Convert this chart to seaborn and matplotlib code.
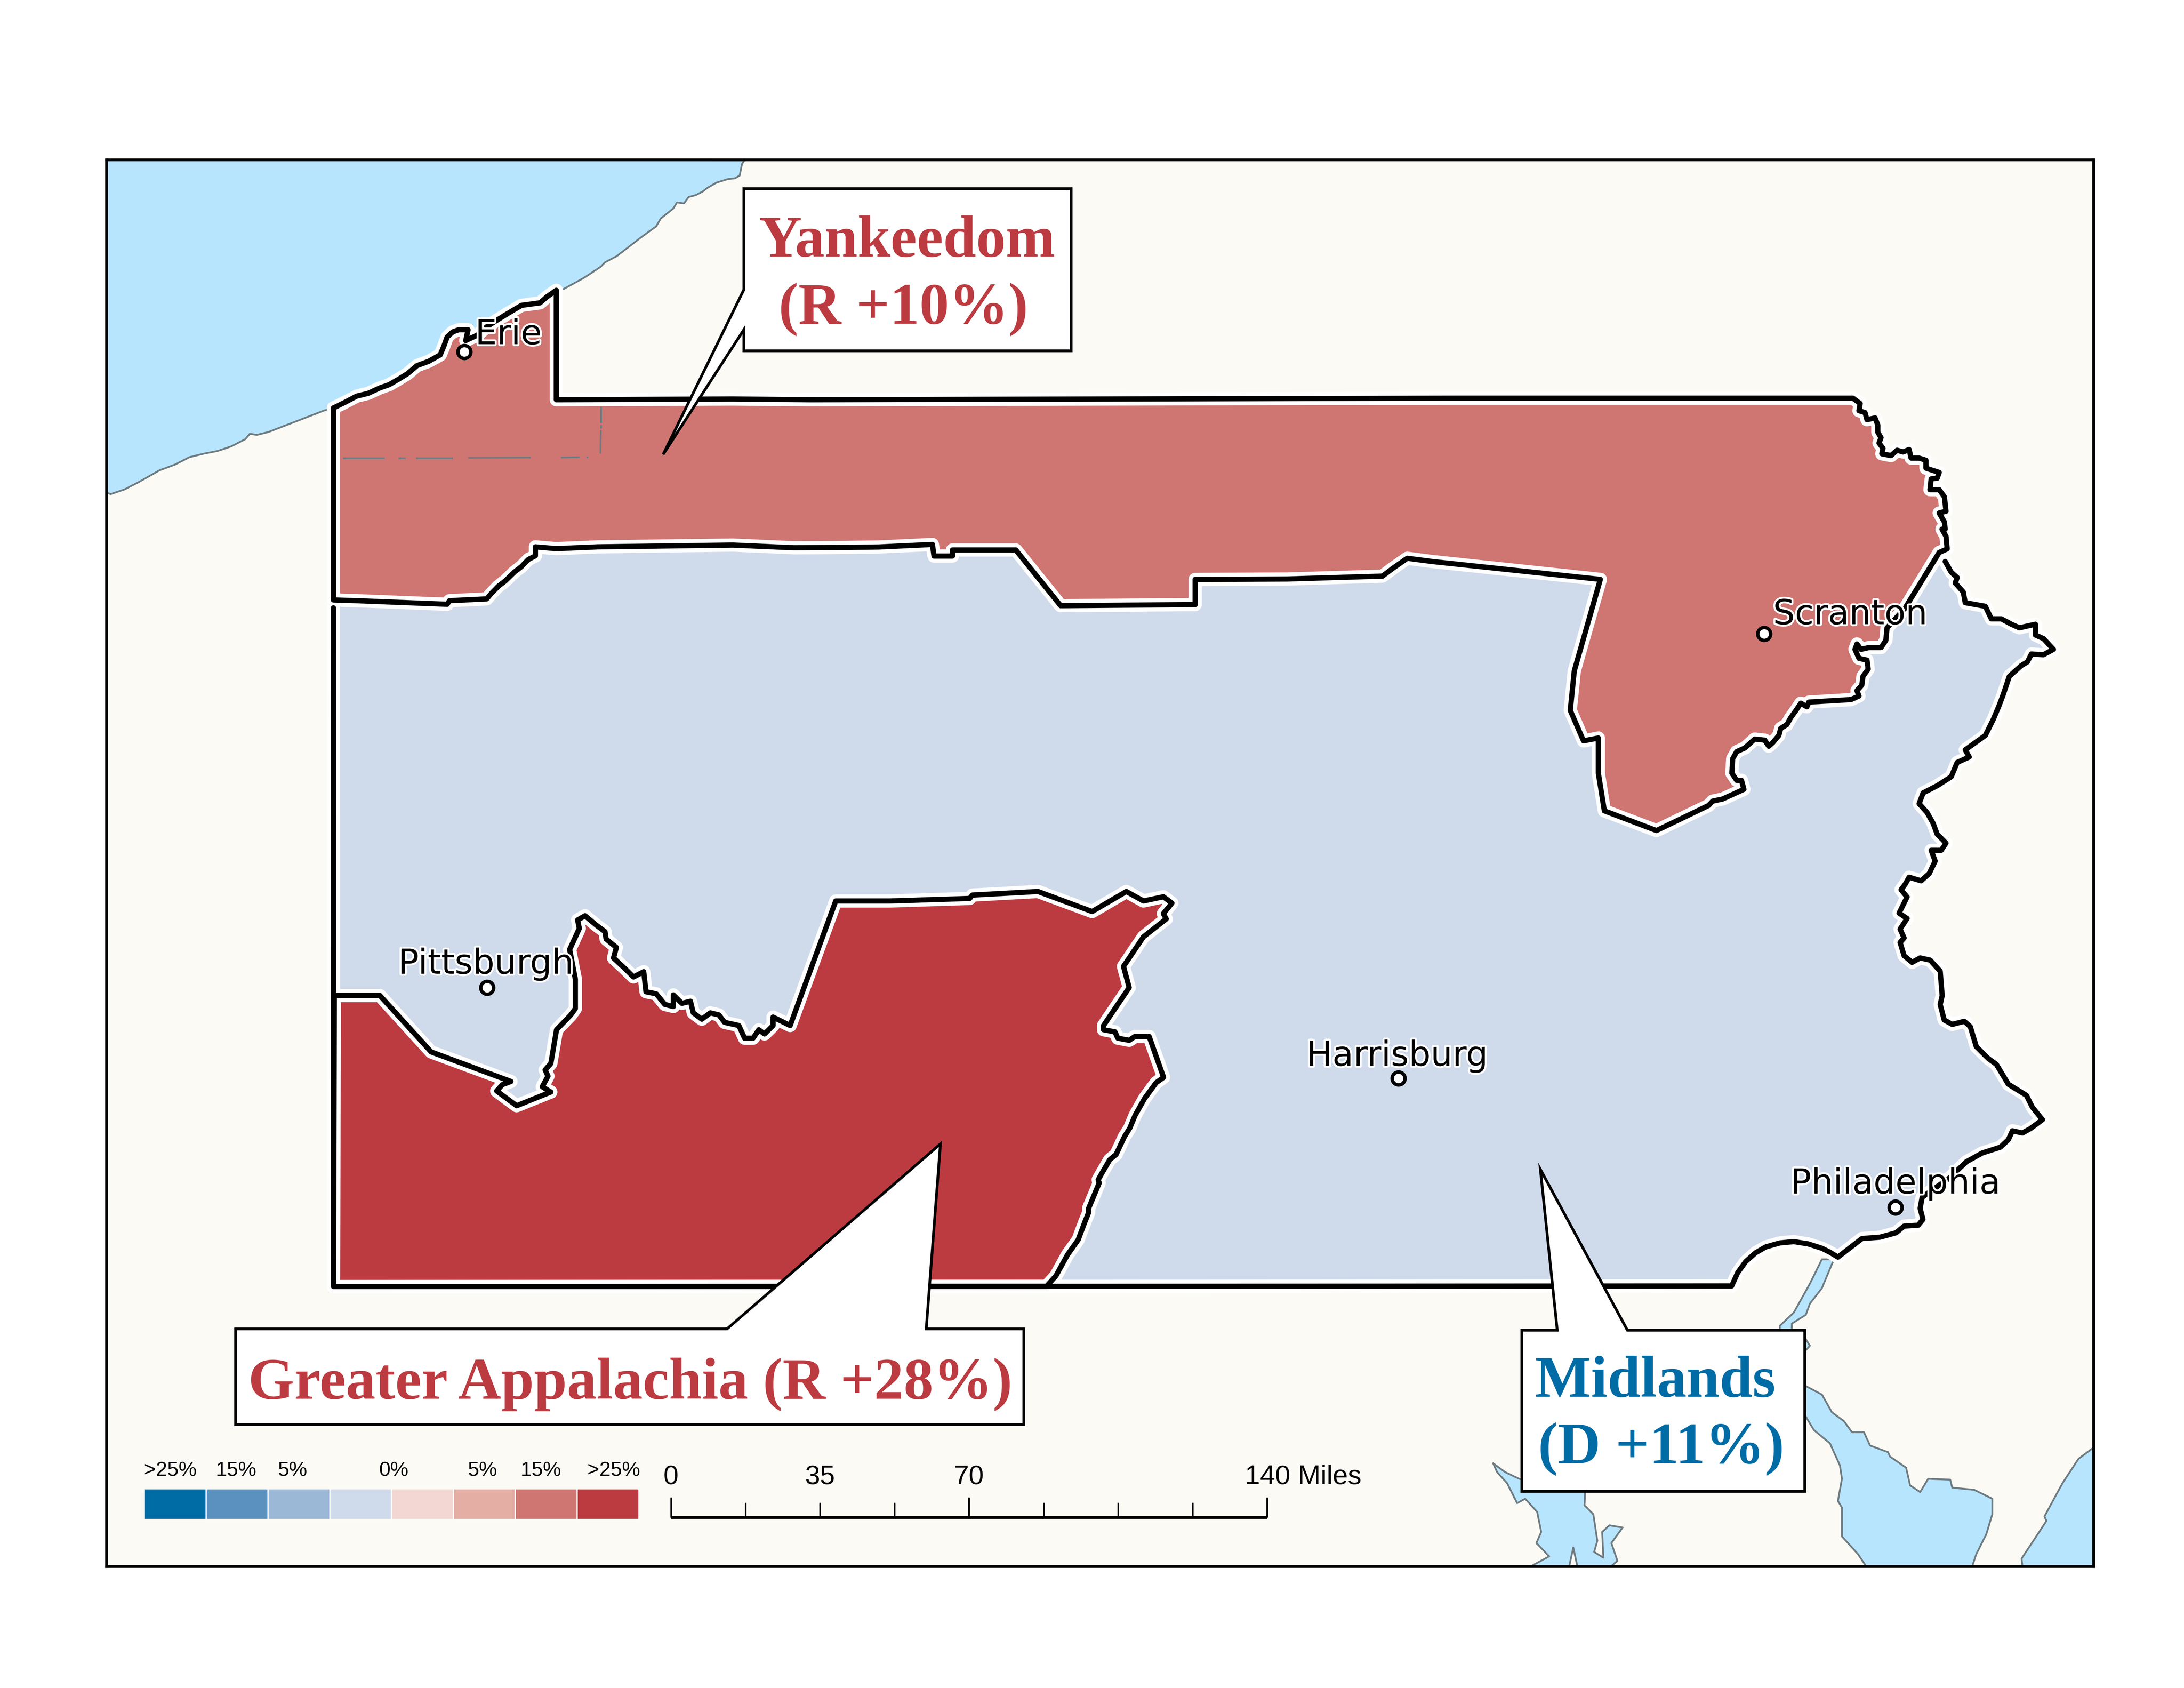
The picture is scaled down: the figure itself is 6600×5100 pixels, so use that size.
import numpy as np
import pandas as pd
import matplotlib
matplotlib.use("Agg")
import matplotlib.pyplot as plt
import matplotlib.patheffects as pe
from matplotlib.colors import ListedColormap
from matplotlib.patches import Polygon
import seaborn as sns

W, H = 6600, 5100
FRAME = (322, 483, 6327, 4733)

LAND = "#FBFAF5"
WATER = "#B8E5FE"
SHORE = "#6E7B80"
RED = "#BC3B41"
BLUE = "#006CA5"

LEGEND_COLORS = ["#006CA5", "#5B91BE", "#9CB8D7", "#CFDBEB", "#F3D7D3", "#E4AEA4", "#CF7572", "#BC3B41"]
LEGEND_LABELS = [">25%", "15%", "5%", "0%", "5%", "15%", ">25%"]
LEGEND_LABEL_X = [515, 713, 884, 1190, 1458, 1634, 1855]
SCALE_TICKS = [0, 17.5, 35, 52.5, 70, 87.5, 105, 122.5, 140]
SCALE_LABELS = [(0, "0"), (35, "35"), (70, "70")]

CITY = ["Erie", "Scranton", "Pittsburgh", "Harrisburg", "Philadelphia"]
CITY_X = [1403, 5331, 1472, 4226, 5728]
CITY_Y = [1063, 1915, 2984, 3258, 3648]
CITY_LABEL_X = [1436, 5358, 1203, 3948, 5411]
CITY_LABEL_Y = [1040, 1886, 2942, 3220, 3606]


def crop(x0, y0, w, h, pts, zh=1568):
    a = np.array(pts, float)
    a[:, 0] = x0 + a[:, 0] * w / 1568
    a[:, 1] = y0 + a[:, 1] * h / zh
    return a


NW = (250, 400, 2200, 1700)
NE = (4400, 1100, 1900, 1700)
SE = (4500, 2700, 1900, 2100)
SW = (950, 2550, 2700, 1000)
MID = (2700, 3000, 1000, 1000)

LAKE_SHORE = crop(*NW, [(540, 768), (565, 752), (590, 735), (615, 727), (640, 712), (660, 703), (680, 688), (700, 672), (720, 650), (745, 638), (770, 620),
                        (778, 595), (785, 570), (797, 556), (810, 550), (830, 550), (825, 580), (850, 565), (870, 542), (890, 525), (915, 505), (945, 482),
                        (985, 475), (1000, 458), (1020, 440)])
NORTH_BORDER_W = crop(*NW, [(1020, 745), (1400, 743), (1568, 745)])
NORTH_BORDER_E = crop(*NE, [(0, 95), (990, 95), (1008, 110), (1005, 130), (1020, 135), (1025, 155), (1045, 150), (1052, 170),
                            (1052, 190), (1060, 205), (1055, 220), (1065, 235), (1062, 250), (1085, 255), (1100, 240),
                            (1115, 245), (1130, 238), (1135, 262), (1155, 262), (1172, 268), (1172, 290), (1205, 302),
                            (1200, 318), (1185, 320), (1182, 350), (1205, 350), (1218, 370), (1222, 410), (1205, 415),
                            (1218, 440), (1220, 460), (1212, 460), (1222, 480), (1225, 515), (1205, 525)])
YANK_EAST = crop(*NE, [(1120, 680), (1075, 735), (1072, 770), (1060, 790), (1030, 790), (1010, 795), (1000, 780), (995, 795),
                       (1005, 820), (1025, 825), (1028, 850), (1015, 870), (1012, 895), (1000, 910), (1005, 925), (985, 935),
                       (880, 942), (875, 955), (860, 945), (848, 965), (835, 985), (825, 1005), (810, 1015), (805, 1035),
                       (790, 1055), (780, 1065), (770, 1048), (745, 1045), (720, 1070), (700, 1080), (690, 1100), (688, 1140),
                       (700, 1160), (712, 1160), (718, 1185), (665, 1212), (640, 1218), (630, 1230), (500, 1300), (370, 1245),
                       (355, 1140), (355, 1042), (318, 1050), (285, 965), (295, 855), (360, 600)])
YANK_SOUTH_E = crop(2400, 1500, 2500, 400, [(1210, 590), (1162, 560), (1135, 650), (1115, 722), (935, 748), (760, 752), (760, 980),
                                            (505, 990), (420, 485), (300, 485), (300, 540), (265, 540), (262, 435), (160, 458),
                                            (75, 463), (0, 465)], zh=1200)
YANK_SOUTH_W = crop(*NW, [(1400, 1150), (1110, 1155), (1020, 1160), (975, 1155), (975, 1180), (960, 1190), (945, 1210), (930, 1225),
                          (910, 1250), (895, 1265), (880, 1285), (870, 1300), (790, 1305), (785, 1315), (590, 1305), (540, 1303)])
EAST_RIVER_N = crop(*NE, [(1220, 550), (1235, 580), (1250, 595), (1245, 610), (1265, 635), (1270, 665), (1295, 670), (1320, 675),
                          (1335, 710), (1360, 710), (1385, 725), (1405, 735), (1445, 725), (1445, 755), (1465, 765), (1490, 795),
                          (1465, 810), (1435, 808), (1425, 830), (1410, 840), (1380, 870), (1365, 920), (1355, 950), (1340, 990),
                          (1320, 1035), (1295, 1055), (1270, 1075), (1280, 1095), (1250, 1110), (1235, 1150), (1200, 1175),
                          (1165, 1195), (1155, 1225), (1175, 1250), (1190, 1280), (1200, 1310), (1222, 1335), (1210, 1355),
                          (1185, 1355), (1195, 1385), (1180, 1420), (1160, 1440), (1130, 1430), (1120, 1450), (1110, 1465),
                          (1125, 1485), (1105, 1530), (1125, 1545)])
EAST_RIVER_S = crop(*SE, [(1025, 80), (1035, 100), (1025, 110), (1035, 140), (1055, 155), (1075, 145), (1100, 150), (1125, 175),
                          (1130, 230), (1125, 250), (1135, 285), (1155, 295), (1185, 288), (1200, 300), (1215, 345), (1245, 372),
                          (1265, 385), (1295, 430), (1340, 455), (1355, 482), (1380, 510), (1350, 530), (1330, 540), (1305, 535),
                          (1295, 555), (1275, 572), (1230, 585), (1190, 605), (1150, 640), (1080, 685), (1075, 710), (1082, 735),
                          (1070, 748), (1035, 750), (1015, 765), (975, 775), (930, 778), (870, 820), (850, 809), (830, 800), (795, 790),
                          (760, 785), (725, 788), (690, 797), (665, 810), (640, 830), (620, 855), (605, 885)])
SOUTH_BORDER_E = crop(*MID, [(780, 1390)])
SW_CORNER = np.array([[1008.0, 3887.0]])
APP_NORTH = crop(*SW, [(35, 718), (115, 718), (205, 985), (345, 1125), (330, 1140), (320, 1170), (335, 1200), (355, 1240), (415, 1175),
                       (400, 1150), (410, 1100), (405, 1070), (415, 1040), (425, 880), (450, 810), (458, 780), (458, 640), (448, 500),
                       (465, 400), (462, 360), (475, 340), (495, 385), (510, 415), (512, 450), (530, 490), (525, 540), (545, 590),
                       (560, 630), (578, 605), (582, 700), (600, 710), (615, 760), (630, 770), (630, 715), (645, 755), (660, 745),
                       (665, 800), (680, 830), (695, 800), (710, 810), (720, 845), (745, 860), (755, 920), (770, 920), (780, 880),
                       (790, 900), (805, 860), (805, 820), (835, 860), (915, 270), (1010, 270), (1150, 258), (1155, 242), (1270, 225),
                       (1365, 320), (1425, 225), (1455, 270), (1490, 250), (1505, 280), (1490, 330), (1495, 355), (1455, 440),
                       (1420, 580), (1430, 680), (1385, 860), (1385, 880), (1405, 890), (1410, 920), (1430, 930), (1440, 912), (1465, 912)])
APP_EAST = crop(*MID, [(1280, 400), (1245, 425), (1190, 500), (1145, 580), (1120, 640), (1095, 680), (1055, 765), (1025, 790), (990, 850),
                       (970, 885), (975, 900), (950, 960), (925, 1020), (925, 1040), (905, 1090), (875, 1170), (825, 1240), (770, 1340),
                       (725, 1390)])
WEST_BORDER = crop(*NW, [(540, 1325)])

ERIE_WEST = crop(*NW, [(50, 1003), (60, 1008), (90, 995), (120, 975), (165, 942), (200, 925), (230, 905), (262, 895), (290, 888), (320, 875), (350, 855),
                       (360, 840), (375, 843), (400, 835), (440, 815), (460, 805), (490, 790), (520, 775)])
ERIE_EAST = crop(*NW, [(1035, 437), (1080, 405), (1115, 375), (1125, 362), (1150, 345), (1165, 330), (1200, 295), (1235, 262), (1245, 240), (1272, 212),
                       (1280, 195), (1295, 198), (1305, 180), (1320, 175), (1335, 165), (1345, 155), (1365, 140), (1390, 130), (1405, 128), (1415, 120),
                       (1420, 88), (1425, 78)])
DELAWARE_BAY = crop(*SE, [(860, 825), (830, 890), (800, 925), (790, 950), (755, 970), (755, 990), (790, 1005), (800, 1020), (785, 1035), (788, 1110), (830, 1130),
                          (855, 1170), (885, 1190), (905, 1215), (935, 1215), (950, 1245), (965, 1250), (995, 1260), (1000, 1270), (1040, 1295), (1050, 1335),
                          (1075, 1350), (1095, 1320), (1150, 1322), (1155, 1340), (1210, 1345), (1255, 1365), (1255, 1400), (1240, 1445), (1215, 1490), (1205, 1517),
                          (940, 1517), (920, 1490), (880, 1450), (880, 1385), (870, 1370), (880, 1320), (875, 1290), (850, 1240), (810, 1210), (790, 1180),
                          (700, 1100), (725, 985), (725, 975), (760, 945), (800, 880), (830, 825)])
CHESAPEAKE = crop(*SE, [(10, 1285), (40, 1305), (75, 1320), (150, 1335), (240, 1340), (238, 1380), (260, 1400), (270, 1460), (262, 1485), (285, 1498), (282, 1440),
                        (300, 1425), (333, 1430), (305, 1465), (320, 1505), (305, 1517), (220, 1517), (210, 1475), (200, 1517), (105, 1517), (150, 1495),
                        (118, 1465), (130, 1440), (120, 1395), (90, 1365), (70, 1375), (45, 1330), (20, 1305)])
ATLANTIC = crop(*SE, [(1507, 1250), (1470, 1275), (1430, 1330), (1385, 1405), (1390, 1415), (1350, 1470), (1328, 1500), (1330, 1517), (1507, 1517)])

COUNTY_H = crop(*NW, [(560, 908), (650, 908), (680, 908), (695, 908), (718, 908), (797, 908), (830, 907), (965, 906), (1030, 906), (1070, 905), (1085, 905), (1088, 905)])
COUNTY_V = crop(*NW, [(1116, 765), (1116, 810), (1116, 815), (1116, 825), (1116, 830), (1115, 895)])

YANK_CALLOUT = [(2248, 570), (3237, 570), (3237, 1060), (2248, 1060), (2248, 996), (2004, 1373), (2248, 875)]
APP_CALLOUT = [(712, 4015), (2197, 4015), (2842, 3456), (2799, 4015), (3094, 4015), (3094, 4304), (712, 4304)]
MID_CALLOUT = [(4599, 4019), (4706, 4019), (4655, 3533), (4918, 4019), (5454, 4019), (5454, 4506), (4599, 4506)]

yank_outline = np.vstack([LAKE_SHORE, NORTH_BORDER_W, NORTH_BORDER_E, YANK_EAST, YANK_SOUTH_E, YANK_SOUTH_W])
app_outline = np.vstack([APP_NORTH, APP_EAST, SW_CORNER])
mid_outline = np.vstack([LAKE_SHORE, NORTH_BORDER_W, NORTH_BORDER_E, EAST_RIVER_N, EAST_RIVER_S, SOUTH_BORDER_E, SW_CORNER])
mid_east_line = np.vstack([EAST_RIVER_N, EAST_RIVER_S, SOUTH_BORDER_E, SW_CORNER, WEST_BORDER])
lake = np.vstack([ERIE_WEST, LAKE_SHORE, ERIE_EAST, [[FRAME[0], FRAME[1]]]])

sns.set_theme(style="white")
fig = plt.figure(figsize=(W / 600, H / 600), dpi=600, facecolor="white")


def px_axes(x0, y0, x1, y1):
    return fig.add_axes([x0 / W, 1 - y1 / H, (x1 - x0) / W, (y1 - y0) / H])


ax = px_axes(*FRAME)
ax.set_facecolor(LAND)

for pts in (lake, DELAWARE_BAY, CHESAPEAKE, ATLANTIC):
    ax.add_patch(Polygon(pts, closed=True, facecolor=WATER, edgecolor=SHORE, lw=0.65, zorder=1, joinstyle="round"))

ax.add_patch(Polygon(mid_outline, closed=True, facecolor=LEGEND_COLORS[3], edgecolor="none", zorder=2))
ax.add_patch(Polygon(yank_outline, closed=True, facecolor=LEGEND_COLORS[6], edgecolor="none", zorder=2.1))
ax.add_patch(Polygon(app_outline, closed=True, facecolor=LEGEND_COLORS[7], edgecolor="none", zorder=2.2))

for seg in (COUNTY_H[:2], COUNTY_H[2:4], COUNTY_H[4:6], COUNTY_H[6:8], COUNTY_H[8:10], COUNTY_H[10:12],
            COUNTY_V[:2], COUNTY_V[2:4], COUNTY_V[4:6]):
    ax.plot(seg[:, 0], seg[:, 1], color=SHORE, lw=0.6, zorder=2.3, solid_capstyle="butt")

closed_yank = np.vstack([yank_outline, yank_outline[:1]])
closed_app = np.vstack([app_outline, app_outline[:1]])
for line in (closed_yank, closed_app, mid_east_line):
    ax.plot(line[:, 0], line[:, 1], color="white", lw=4.8, zorder=3,
            solid_joinstyle="round", solid_capstyle="round")
for line in (closed_yank, closed_app, mid_east_line):
    ax.plot(line[:, 0], line[:, 1], color="black", lw=1.9, zorder=3.5,
            solid_joinstyle="round", solid_capstyle="round")

cities = pd.DataFrame({"city": CITY, "x": CITY_X, "y": CITY_Y})
sns.scatterplot(data=cities, x="x", y="y", ax=ax, s=22, color="white", edgecolor="black",
                linewidth=1.25, zorder=5, legend=False)
halo = [pe.withStroke(linewidth=1.4, foreground="white")]
for name, lx, ly in zip(CITY, CITY_LABEL_X, CITY_LABEL_Y):
    ax.text(lx, ly, name, family="DejaVu Sans", fontsize=12.5, color="black", ha="left", va="baseline",
            path_effects=halo, zorder=5.5)

for pts in (YANK_CALLOUT, APP_CALLOUT, MID_CALLOUT):
    ax.add_patch(Polygon(pts, closed=True, facecolor="white", edgecolor="black", lw=1.0, zorder=6, joinstyle="miter"))

serif = dict(family="Liberation Serif", fontweight="bold", fontsize=21.5, va="baseline", zorder=7)
ax.text(2742, 775, "Yankeedom", color=RED, ha="center", **serif)
ax.text(2730, 978, "(R +10%)", color=RED, ha="center", **serif)
ax.text(1905, 4226, "Greater Appalachia (R +28%)", color=RED, ha="center", **serif)
ax.text(4639, 4220, "Midlands", color=BLUE, ha="left", **serif)
ax.text(4648, 4421, "(D +11%)", color=BLUE, ha="left", **serif)

for lab, lx in zip(LEGEND_LABELS, LEGEND_LABEL_X):
    ax.text(lx, 4460, lab, family="Liberation Sans", fontsize=7.4, color="black", ha="center", va="baseline", zorder=7)
for val, lab in SCALE_LABELS:
    ax.text(2028 + val * (3829 - 2028) / 140, 4484, lab, family="Liberation Sans", fontsize=9.8,
            color="black", ha="center", va="baseline", zorder=7)
ax.text(3762, 4484, "140 Miles", family="Liberation Sans", fontsize=9.9, color="black", ha="left", va="baseline", zorder=7)

ax.set_xlim(FRAME[0], FRAME[2])
ax.set_ylim(FRAME[3], FRAME[1])
ax.set_xlabel("")
ax.set_ylabel("")
ax.set_xticks([])
ax.set_yticks([])
for s in ax.spines.values():
    s.set_visible(True)
    s.set_color("black")
    s.set_linewidth(1.0)
    s.set_zorder(10)

lax = px_axes(436, 4498, 1931, 4591)
sns.heatmap(np.arange(len(LEGEND_COLORS)).reshape(1, -1), ax=lax, cmap=ListedColormap(LEGEND_COLORS), cbar=False,
            linewidths=0.25, linecolor="#FBFAF5", xticklabels=False, yticklabels=False)

sax = px_axes(2028, 4524, 3829, 4585)
sax.patch.set_alpha(0)
sax.set_xlim(0, 140)
sax.set_ylim(0, 1)
sax.set_axis_off()
sax.plot([0, 140], [0, 0], color="black", lw=1.0, clip_on=False, solid_capstyle="butt")
for t in SCALE_TICKS:
    top = 1.0 if t in (0, 70, 140) else 0.74
    sax.plot([t, t], [0, top], color="black", lw=0.6, clip_on=False, solid_capstyle="butt")

fig.savefig("out.png", dpi=600, facecolor="white")
